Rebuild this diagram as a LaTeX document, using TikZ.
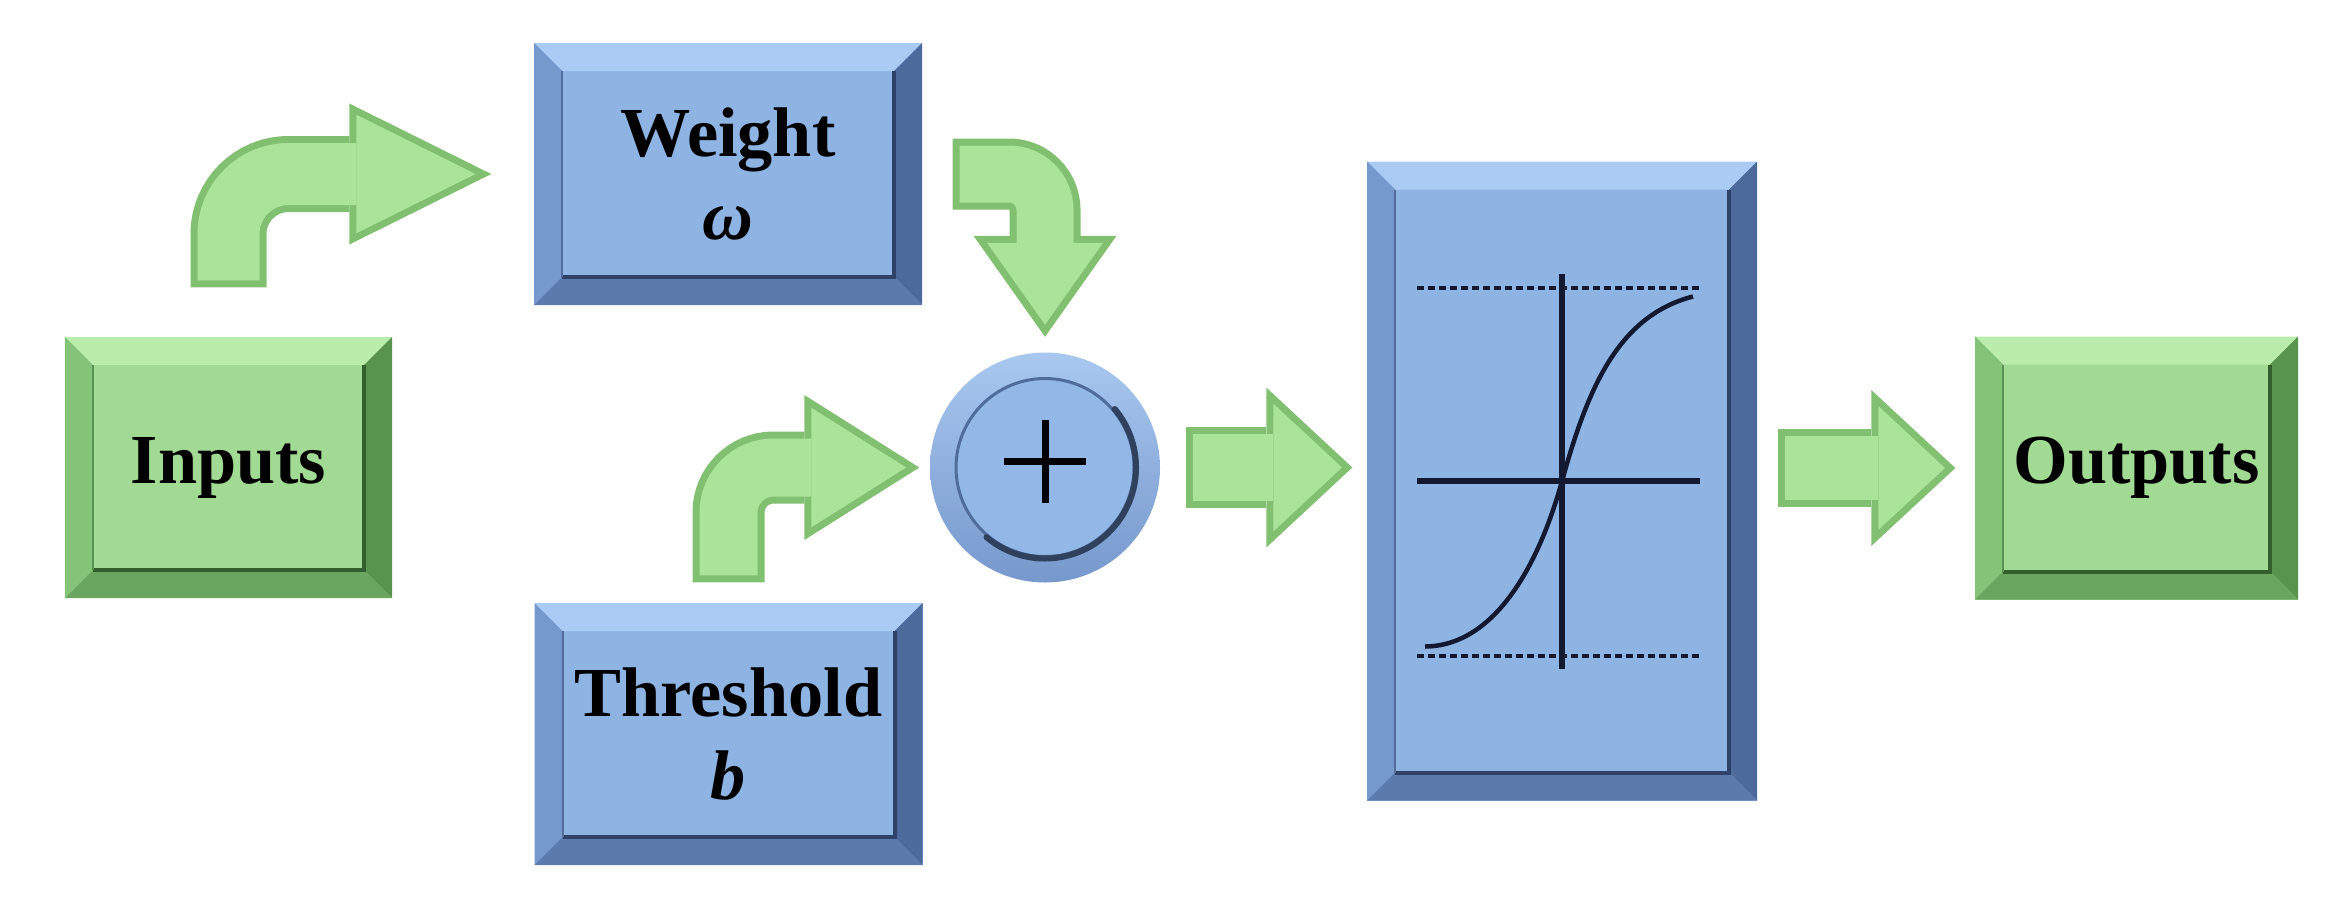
\documentclass[tikz,border=0pt]{standalone}
\usepackage{fontspec}
\setmainfont{Liberation Serif}
\usetikzlibrary{positioning,arrows.meta}
\definecolor{greenfill}{RGB}{161,218,146}
\definecolor{greentop}{RGB}{186,236,171}
\definecolor{greenleft}{RGB}{132,196,120}
\definecolor{greenright}{RGB}{88,148,78}
\definecolor{greenbot}{RGB}{106,166,96}
\definecolor{greenline}{RGB}{50,95,45}
\definecolor{bluefill}{RGB}{142,180,228}
\definecolor{bluetop}{RGB}{170,204,244}
\definecolor{blueleft}{RGB}{118,153,205}
\definecolor{blueright}{RGB}{76,106,156}
\definecolor{bluebot}{RGB}{92,122,172}
\definecolor{blueline}{RGB}{45,65,105}
\definecolor{sumtop}{RGB}{168,200,240}
\definecolor{sumbot}{RGB}{118,152,204}
\definecolor{sumfill}{RGB}{146,184,232}
\definecolor{sumline}{RGB}{80,108,155}
\definecolor{arrowedge}{RGB}{128,192,112}
\definecolor{arrowface}{RGB}{170,228,154}
\definecolor{ink}{RGB}{20,25,50}

\newcommand\bevw{0.28cm}
% bevelled frame of a box, #1 = colour prefix
\newcommand\bevel[1]{%
  \coordinate (bvNW) at (path picture bounding box.north west);
  \coordinate (bvNE) at (path picture bounding box.north east);
  \coordinate (bvSW) at (path picture bounding box.south west);
  \coordinate (bvSE) at (path picture bounding box.south east);
  \fill[#1top] (bvNW) -- (bvNE) -- ([shift={(-\bevw,-\bevw)}]bvNE) -- ([shift={(\bevw,-\bevw)}]bvNW) -- cycle;
  \fill[#1left] (bvNW) -- (bvSW) -- ([shift={(\bevw,\bevw)}]bvSW) -- ([shift={(\bevw,-\bevw)}]bvNW) -- cycle;
  \fill[#1right] (bvNE) -- (bvSE) -- ([shift={(-\bevw,\bevw)}]bvSE) -- ([shift={(-\bevw,-\bevw)}]bvNE) -- cycle;
  \fill[#1bot] (bvSW) -- (bvSE) -- ([shift={(-\bevw,\bevw)}]bvSE) -- ([shift={(\bevw,\bevw)}]bvSW) -- cycle;
  \draw[#1line, line width=0.04cm] ([shift={(\bevw,\bevw)}]bvSW) -- ([shift={(-\bevw,\bevw)}]bvSE) -- ([shift={(-\bevw,-\bevw)}]bvNE);
  \draw[#1line!50!#1left, line width=0.02cm] ([shift={(\bevw,\bevw)}]bvSW) -- ([shift={(\bevw,-\bevw)}]bvNW);
}
% ring and plus sign of the summing junction
\newcommand\drawsum{%
  \coordinate (sc) at (path picture bounding box.center);
  \fill[sumfill] (sc) circle (0.89cm);
  \draw[sumline, line width=0.03cm] (sc) circle (0.89cm);
  \draw[sumline!60!black, line width=0.06cm, line cap=round] ([shift={(-130:0.91cm)}]sc) arc[start angle=-130, end angle=40, radius=0.91cm];
  \draw[line width=0.07cm] ([shift={(-0.41,0.06)}]sc) -- ([shift={(0.41,0.06)}]sc);
  \draw[line width=0.07cm] ([shift={(0,-0.355)}]sc) -- ([shift={(0,0.475)}]sc);
}

\begin{document}
\begin{tikzpicture}[auto, on grid, node distance=5cm,
box/.style={rectangle, inner sep=0pt, align=center,
font=\bfseries\fontsize{20}{23.6}\selectfont},
greenbox/.style={box, fill=greenfill, minimum width=3.27cm, minimum height=2.61cm,
path picture={\bevel{green}}},
bluebox/.style={box, fill=bluefill, minimum width=3.88cm, minimum height=2.62cm,
path picture={\bevel{blue}}},
sumnode/.style={circle, inner sep=0pt, minimum size=2.3cm,
top color=sumtop, bottom color=sumbot, path picture={\drawsum}},
fat/.style n args={4}{draw=#1, line width=#2,
-{Triangle[length=#3, width=#4, line width=0pt]}},
axis/.style={ink, line width=0.06cm},
limit/.style={ink, line width=0.04cm, dash pattern=on 0.07cm off 0.04cm},
curve/.style={ink, line width=0.045cm}]
\useasboundingbox (-2.285,-4.355) rectangle (21.135,4.675);

\node[greenbox] (in) {Inputs};
\node[bluebox] (w) [above right=2.935cm and 4.995cm of in] {Weight\\\itshape ω};
\node[bluebox] (th) [below right=2.665cm and 5.0cm of in] {Threshold\\\itshape b};
\node[sumnode] (sum) [right=8.165cm of in] {};
\node[bluebox] (act) [below right=0.135cm and 5.17cm of sum, minimum width=3.9cm, minimum height=6.39cm] {};
\node[greenbox] (out) [above right=0.13cm and 5.745cm of act, minimum width=3.23cm, minimum height=2.63cm] {Outputs};

% activation curve
\begin{scope}[shift={(act.center)}]
\draw[limit] (-1.45,1.935) -- (1.38,1.935);
\draw[limit] (-1.45,-1.745) -- (1.38,-1.745);
\draw[axis] (0,2.075) -- (0,-1.875);
\draw[axis] (-1.45,0) -- (1.38,0);
\draw[curve] (-1.37,-1.655) .. controls (-0.7,-1.65) and (-0.25,-0.9) .. (0,0)
  .. controls (0.25,0.9) and (0.55,1.65) .. (1.31,1.845);
\end{scope}

% block arrows: edge, then face
\draw[fat={arrowedge}{0.76cm}{1.42cm}{1.41cm}, rounded corners=0.6cm, shorten <=0.49cm, shorten >=0.42cm] (in.north) |- (w.west);
\draw[fat={arrowface}{0.62cm}{1.193cm}{1.185cm}, rounded corners=0.6cm, shorten <=0.56cm, shorten >=0.577cm] (in.north) |- (w.west);

\draw[fat={arrowedge}{0.71cm}{1.01cm}{1.43cm}, rounded corners=0.36cm, shorten <=0.3cm, shorten >=0.15cm] (w.east) -| (sum.north);
\draw[fat={arrowface}{0.57cm}{0.819cm}{1.16cm}, rounded corners=0.36cm, shorten <=0.37cm, shorten >=0.271cm] (w.east) -| (sum.north);

\draw[fat={arrowedge}{0.72cm}{1.15cm}{1.45cm}, rounded corners=0.45cm, shorten <=0.2cm, shorten >=0.1cm] (th.north) |- (sum.west);
\draw[fat={arrowface}{0.58cm}{0.949cm}{1.196cm}, rounded corners=0.45cm, shorten <=0.27cm, shorten >=0.231cm] (th.north) |- (sum.west);

\draw[fat={arrowedge}{0.81cm}{0.86cm}{1.6cm}, shorten <=0.25cm, shorten >=0.14cm] (sum.east) -- (act.west |- sum.east);
\draw[fat={arrowface}{0.67cm}{0.687cm}{1.278cm}, shorten <=0.32cm, shorten >=0.243cm] (sum.east) -- (act.west |- sum.east);

\draw[fat={arrowedge}{0.78cm}{0.84cm}{1.56cm}, shorten <=0.2cm, shorten >=0.19cm] (act.east |- out.west) -- (out.west);
\draw[fat={arrowface}{0.64cm}{0.667cm}{1.24cm}, shorten <=0.27cm, shorten >=0.293cm] (act.east |- out.west) -- (out.west);
\end{tikzpicture}
\end{document}
